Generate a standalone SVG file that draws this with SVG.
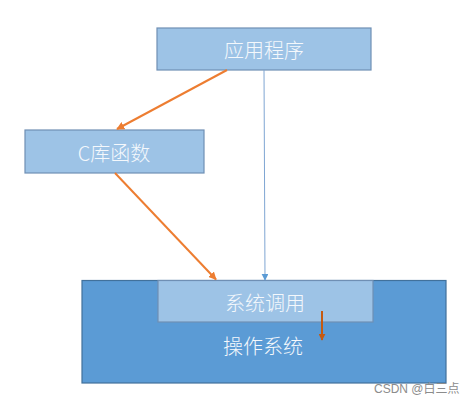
<svg xmlns="http://www.w3.org/2000/svg" width="474" height="404" viewBox="0 0 474 404">
<style>
.lt{fill:#9dc3e6;stroke:#6f8fb4;stroke-width:1.2}
.os{fill:#5b9bd5;stroke:#41719c;stroke-width:1.2}
.t{font-family:"Noto Sans CJK SC","Liberation Sans",sans-serif;font-size:20px;font-weight:300;fill:#f4f8fc;text-anchor:middle;dominant-baseline:central}
.or{stroke:#ed7d31;stroke-width:2;fill:none}
</style>
<defs>
<marker id="ao" viewBox="0 0 10 10" refX="9" refY="5" markerWidth="4" markerHeight="4" orient="auto"><path d="M0,0L10,5L0,10z" fill="#ed7d31"/></marker>
<marker id="ab" viewBox="0 0 10 10" refX="9" refY="5" markerWidth="7" markerHeight="7" orient="auto"><path d="M0,0L10,5L0,10z" fill="#5b9bd5"/></marker>
<marker id="ar" viewBox="0 0 10 10" refX="9" refY="5" markerWidth="3.5" markerHeight="3.5" orient="auto"><path d="M0,0L10,5L0,10z" fill="#c55a11"/></marker>
</defs>
<rect width="474" height="404" fill="#ffffff"/>
<g id="os"><rect class="os" x="82" y="280.5" width="364" height="102.5"/><text class="t" x="263" y="345">操作系统</text></g>
<g id="syscall"><rect class="lt" x="158" y="280.5" width="215" height="41.5"/><text class="t" x="265" y="302">系统调用</text></g>
<g id="app"><rect class="lt" x="157" y="28" width="214" height="42"/><text class="t" x="264" y="49">应用程序</text></g>
<g id="clib"><rect class="lt" x="25" y="130" width="179" height="43"/><text class="t" x="114" y="152">C库函数</text></g>
<g id="connectors">
<line class="or" x1="227" y1="70" x2="117" y2="129" marker-end="url(#ao)"/>
<line class="or" x1="115" y1="173" x2="216" y2="279.5" marker-end="url(#ao)"/>
<line x1="264" y1="70" x2="265" y2="280" stroke="#7fa6d3" stroke-width="1" marker-end="url(#ab)"/>
<line x1="322" y1="311" x2="322" y2="340" stroke="#c55a11" stroke-width="2" marker-end="url(#ar)"/>
</g>
<text x="374" y="393" font-family="'Liberation Sans','Noto Sans CJK SC',sans-serif" font-size="12" fill="#8c8c8c">CSDN @白三点</text>
</svg>
